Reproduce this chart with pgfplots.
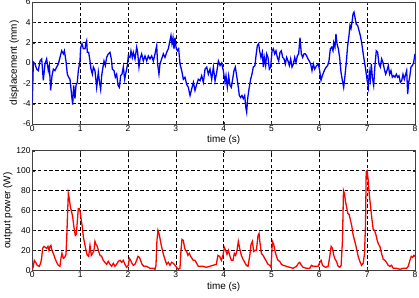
\documentclass[border=0pt]{standalone}
\usepackage{fontspec}
\setmainfont{Liberation Sans}
\usepackage{pgfplots}
\pgfplotsset{compat=1.18}
\begin{document}
\begin{tikzpicture}
\useasboundingbox (0,0) rectangle (419bp,298bp);
\pgfplotsset{
  myax/.style={
    scale only axis, anchor=south west,
    width=382.7bp, xmin=0, xmax=8, xtick={0,1,...,8},
    grid=major, major grid style={black, dash pattern=on 3.5pt off 2.2pt, line width=0.5pt},
    axis line style={black!75, line width=0.7pt},
    tick align=inside, major tick length=2.5pt, tick style={black!80},
    ticklabel style={font=\fontsize{8.5}{9}\selectfont, inner sep=1.5pt},
    /pgf/number format/assume math mode=true,
    label style={font=\fontsize{10}{11}\selectfont},
    xlabel={time (s)},
    xlabel style={yshift=1pt},
    ylabel style={yshift=-1pt},
    clip=true,
  }
}
\begin{axis}[myax, at={(32.3bp,174bp)}, height=122bp, ymin=-6, ymax=6, ytick={-6,-4,...,6},
  ylabel={displacement (mm)}]
\addplot[blue, line width=1.3pt] coordinates {
(0.0,-3.9)(0.022,0.1)(0.056,-0.1)(0.091,-0.6)(0.126,-0.75)(0.161,0.2)(0.196,0.4)(0.23,-1.7)(0.265,-0.1)(0.30,0.4)(0.335,-0.75)(0.356,-0.25)(0.384,-2.7)(0.412,-1.25)(0.44,-0.6)(0.474,-0.75)(0.509,-0.4)(0.544,-0.1)(0.579,0.55)(0.614,1.2)(0.649,0.9)(0.67,1.2)(0.704,0.2)(0.732,-1.1)(0.76,-1.4)(0.788,-1.6)(0.823,-3.2)(0.844,-4.1)(0.865,-2.2)(0.892,-3.5)(0.913,-2.2)(0.941,-1.9)(0.962,-0.75)(0.997,0.2)(1.011,1.5)(1.039,1.9)(1.067,1.4)(1.102,1.4)(1.122,2.0)(1.136,2.2)(1.15,1.05)(1.178,1.05)(1.206,0.2)(1.227,-0.6)(1.255,-1.1)(1.276,-0.4)(1.31,-0.75)(1.345,-2.4)(1.38,-0.9)(1.401,-1.75)(1.429,-2.6)(1.45,-1.25)(1.471,-0.6)(1.499,0.2)(1.526,-0.25)(1.554,0.55)(1.589,0.9)(1.624,1.05)(1.652,0.4)(1.673,-0.6)(1.708,-0.75)(1.736,-1.4)(1.764,-1.1)(1.792,-2.2)(1.82,-2.4)(1.847,-1.25)(1.875,-1.1)(1.903,-0.4)(1.931,-1.6)(1.959,-0.9)(1.987,-0.25)
(2.007,0.7)(2.042,0.55)(2.063,1.2)(2.091,0.55)(2.112,1.05)(2.147,0.4)(2.182,1.55)(2.202,1.05)(2.23,-0.4)(2.251,0.4)(2.286,0.9)(2.321,0.2)(2.356,0.7)(2.391,0.2)(2.425,0.7)(2.46,0.4)(2.495,0.7)(2.53,0.2)(2.565,0.9)(2.6,1.7)(2.62,-0.1)(2.648,-1.1)(2.669,-0.1)(2.704,0.4)(2.739,0.9)(2.774,0.55)(2.809,1.05)(2.844,1.4)(2.878,2.2)(2.899,2.7)(2.92,1.9)(2.941,2.5)(2.962,1.4)(2.983,2.5)(3.004,1.55)(3.032,1.2)(3.06,1.4)(3.088,-0.1)(3.123,-0.75)(3.157,-1.6)(3.192,-1.4)(3.227,-2.1)(3.262,-2.4)(3.297,-3.2)(3.332,-2.55)(3.367,-1.9)(3.401,-2.7)(3.436,-2.1)(3.471,-1.6)(3.506,-1.75)(3.541,-1.25)(3.576,-1.9)(3.611,-0.6)(3.646,-0.4)(3.68,-1.1)(3.715,-0.6)(3.75,-1.6)(3.785,-0.4)(3.82,-1.75)(3.855,-0.9)(3.89,0.2)(3.925,-0.25)(3.958,0.0)(3.993,-0.75)
(4.028,-1.9)(4.049,-1.25)(4.077,-2.4)(4.105,-1.25)(4.133,-2.2)(4.16,-2.4)(4.188,-1.6)(4.216,-0.75)(4.244,-0.4)(4.272,-1.25)(4.307,-2.4)(4.328,-3.2)(4.356,-3.4)(4.383,-3.2)(4.411,-3.5)(4.439,-3.2)(4.467,-4.5)(4.481,-4.85)(4.502,-3.5)(4.53,-2.55)(4.564,-1.6)(4.592,-1.1)(4.62,-0.4)(4.655,-0.25)(4.676,0.7)(4.704,1.7)(4.731,1.9)(4.752,1.2)(4.78,0.55)(4.808,1.05)(4.829,-0.4)(4.85,0.55)(4.878,-0.25)(4.899,0.9)(4.927,0.55)(4.955,-0.6)(4.983,-0.4)(5.011,1.2)(5.039,1.4)(5.066,0.9)(5.094,1.2)(5.122,0.55)(5.15,0.2)(5.178,1.05)(5.206,1.2)(5.234,0.55)(5.262,0.4)(5.289,-0.1)(5.317,0.55)(5.345,0.2)(5.373,-0.25)(5.401,0.4)(5.429,-0.4)(5.457,-0.1)(5.485,0.55)(5.512,0.05)(5.54,0.7)(5.568,0.9)(5.596,2.5)(5.624,0.9)(5.652,0.55)(5.68,0.9)(5.708,0.9)(5.735,0.7)(5.763,0.4)(5.791,0.2)(5.819,-0.1)(5.847,-0.75)(5.875,-0.1)(5.903,-0.6)
(5.944,-0.25)(5.979,-0.1)(6.007,-0.75)(6.035,-1.7)(6.063,-1.25)(6.091,-0.9)(6.118,-0.6)(6.146,-0.4)(6.174,-0.25)(6.202,0.2)(6.23,1.4)(6.258,1.55)(6.286,1.2)(6.3,2.0)(6.327,1.55)(6.348,2.85)(6.369,1.9)(6.397,1.4)(6.425,0.55)(6.453,-0.9)(6.481,-1.7)(6.509,-2.4)(6.536,-1.25)(6.564,0.05)(6.592,1.7)(6.62,2.7)(6.641,3.7)(6.662,3.4)(6.683,4.0)(6.704,4.8)(6.725,5.0)(6.745,4.5)(6.773,3.8)(6.801,3.7)(6.829,3.2)(6.857,2.7)(6.885,2.0)(6.913,1.05)(6.94,0.2)(6.968,-0.6)(6.996,-1.6)(7.024,-2.4)(7.045,-0.9)(7.066,-1.6)(7.087,-0.1)(7.108,-1.4)(7.136,-2.2)(7.163,-0.25)(7.191,1.2)(7.219,1.05)(7.247,-0.1)(7.275,-0.4)(7.303,0.4)(7.331,0.05)(7.359,-0.6)(7.387,-1.1)(7.414,-0.75)(7.442,-0.25)(7.47,-1.1)(7.498,-0.75)(7.526,-1.4)(7.554,-1.25)(7.582,-1.4)(7.61,-1.1)(7.638,-1.4)(7.665,-1.25)(7.693,-1.9)(7.721,-1.75)(7.749,-1.1)(7.777,-1.6)(7.805,-1.1)(7.826,-0.75)(7.847,-3.05)(7.868,-1.9)(7.889,-1.4)(7.916,-0.4)(7.944,-0.25)(7.972,0.05)(8.0,0.9)
};
\end{axis}
\begin{axis}[myax, at={(32.3bp,27.7bp)}, height=119.6bp, ymin=0, ymax=120, ytick={0,20,...,120},
  ylabel={output power (W)}]
\addplot[red, line width=1.3pt] coordinates {
(0,1)(0.021,4)(0.042,10)(0.07,8)(0.105,5)(0.146,4)(0.174,7)(0.195,12)(0.216,22)(0.244,24)(0.272,23)(0.3,22)(0.328,24)(0.348,20)(0.369,24)(0.39,25)(0.411,20)(0.439,17)(0.474,12)(0.509,8)(0.544,5)(0.578,4)(0.599,12)(0.62,17)(0.648,12)(0.676,13)(0.704,16)(0.718,30)(0.739,59)(0.753,77)(0.774,72)(0.794,64)(0.815,60)(0.843,54)(0.871,43)(0.899,35)(0.92,36)(0.941,49)(0.962,62)(0.983,62)(1.003,58)(1.024,50)(1.045,44)(1.066,34)(1.094,27)(1.122,20)(1.15,15)(1.178,14)(1.206,25)(1.233,15)(1.261,17)(1.289,20)(1.31,29)(1.331,26)(1.359,24)(1.387,19)(1.415,15)(1.449,14)(1.484,10)(1.519,8)(1.554,6)(1.589,9)(1.624,6)(1.659,4)(1.693,7)(1.728,4)(1.763,6)(1.798,9)(1.833,10)(1.868,8)(1.902,10)(1.937,6)(1.972,3)(2.007,5)(2.028,12)(2.056,10)(2.084,7)(2.111,5)(2.146,6)(2.181,10)(2.209,14)(2.237,13)(2.265,10)(2.293,6)(2.334,4)(2.39,4)(2.46,2)(2.53,2)(2.564,1)(2.585,5)(2.606,30)(2.627,40)(2.648,37)(2.669,32)(2.697,25)(2.725,19)(2.753,14)(2.78,10)(2.808,6)(2.843,8)(2.878,5)(2.913,8)(2.948,7)(2.983,5)(3.017,3)(3.052,1)(3.087,2)(3.108,20)(3.129,31)(3.157,30)(3.178,24)(3.199,20)(3.226,19)(3.254,15)(3.282,17)(3.31,14)(3.338,12)(3.366,10)(3.401,10)(3.436,7)(3.47,4)
(3.498,4)(3.567,4)(3.637,3)(3.707,4)(3.777,5)(3.846,6)(3.881,15)(3.916,14)(3.951,10)(3.986,15)(4.014,23)(4.042,20)(4.07,16)(4.098,20)(4.126,15)(4.161,10)(4.195,10)(4.223,17)(4.251,15)(4.279,20)(4.307,29)(4.335,22)(4.37,15)(4.405,11)(4.44,8)(4.475,5)(4.509,4)(4.544,14)(4.572,26)(4.6,29)(4.628,19)(4.656,20)(4.684,20)(4.719,35)(4.74,37)(4.761,27)(4.789,17)(4.823,15)(4.858,12)(4.893,9)(4.928,6)(4.963,5)(4.991,3)(5.019,29)(5.047,26)(5.075,19)(5.103,14)(5.137,10)(5.172,9)(5.207,6)(5.242,5)(5.312,4)(5.382,3)(5.452,2)(5.521,4)(5.563,7)(5.591,8)(5.626,5)(5.661,3)(5.731,2)(5.8,2)(5.835,5)(5.87,4)(5.905,4)(5.94,4)(5.975,4)(6.01,8)(6.038,10)(6.066,5)(6.094,4)(6.135,3)(6.184,4)(6.219,14)(6.247,24)(6.275,22)(6.303,15)(6.331,11)(6.359,9)(6.394,4)(6.428,3)(6.456,5)(6.484,30)(6.505,80)(6.526,77)(6.547,69)(6.568,64)(6.596,57)(6.624,56)(6.652,50)(6.68,44)(6.708,35)(6.742,29)(6.777,22)(6.812,14)(6.847,9)(6.882,5)(6.917,7)(6.945,17)(6.966,47)(6.98,99)(7.001,100)(7.022,90)(7.043,77)(7.071,64)(7.098,52)(7.126,41)(7.154,40)(7.182,36)(7.21,30)(7.238,26)(7.266,24)(7.301,17)(7.336,11)(7.371,10)(7.405,8)(7.44,5)(7.475,4)(7.51,5)(7.545,2)(7.615,2)(7.685,1)(7.754,2)(7.824,2)(7.859,4)(7.894,10)(7.922,14)(7.95,13)(7.978,15)(7.999,14)
};
\end{axis}
\end{tikzpicture}
\end{document}
